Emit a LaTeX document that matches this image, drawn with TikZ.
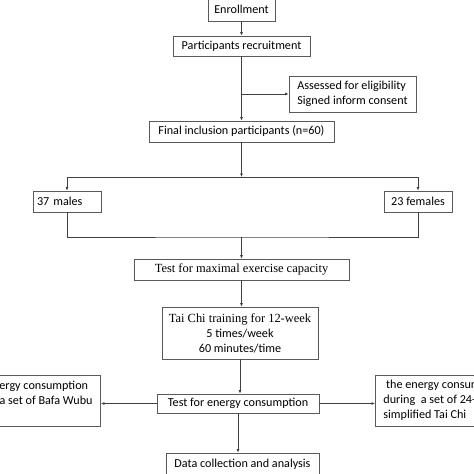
\documentclass[tikz,border=0pt]{standalone}
\usepackage{fontspec}
\setmainfont{Carlito}
\newfontfamily\timesfont{Liberation Serif}
\usetikzlibrary{arrows.meta}

\begin{document}
\begin{tikzpicture}[x=1bp, y=-1bp, >={Latex[length=3.5pt,width=3pt]},
    box/.style={draw=black!65, line width=0.8pt, inner sep=0pt,
        font=\fontsize{12.2}{15}\selectfont},
    serifbox/.style={box, font=\timesfont\fontsize{12.5}{15}\selectfont},
    sidebox/.style={box, align=left, inner xsep=8bp, minimum height=51bp},
    link/.style={draw=black!75, line width=0.7pt}]
    \clip (0,0) rectangle (474,474);

    \node[box, minimum width=67bp, minimum height=23bp] (enroll) at (241.5,9.5) {Enrollment};
    \node[box, minimum width=137bp, minimum height=20bp] (recruit) at (241.5,46) {Participants recruitment};
    \node[box, minimum width=127bp, minimum height=36bp, align=left] (assess) at (352.5,94)
        {Assessed for eligibility\\Signed inform consent};
    \node[box, minimum width=185bp, minimum height=21bp] (final) at (241.5,131.5) {Final inclusion participants (n=60)};
    \node[box, text width=60bp, inner xsep=4bp, minimum height=21bp, align=left] (males) at (67,201.5) {37 males};
    \node[box, minimum width=68bp, minimum height=21bp] (females) at (418,201.5) {23 females};
    \node[serifbox, minimum width=215bp, minimum height=21bp] (testmax) at (241.5,269.5) {Test for maximal exercise capacity};
    \node[box, minimum width=156bp, minimum height=52bp, align=center] (taichi) at (240,333)
        {{\timesfont\fontsize{12.5}{15}\selectfont Tai Chi training for 12-week}\\5 times/week\\60 minutes/time};
    \node[box, minimum width=162bp, minimum height=19bp] (energy) at (238,403.5) {Test for energy consumption};
    \node[sidebox, anchor=east] (bafa) at (101,400.5)
        {\ the energy consumption\\during a set of Bafa Wubu\\Tai Chi};
    \node[sidebox, anchor=west] (simple) at (375,400.5)
        {\ the energy consumption\\during\ \ a set of 24-form\\simplified Tai Chi};
    \node[box, minimum width=153bp, minimum height=22bp] (data) at (242.5,464) {Data collection and analysis};

    % junctions
    \coordinate (branch) at (241.5,94);
    \coordinate (split) at (241.5,177);
    \coordinate (merge) at (241.5,237);

    \draw[link,->] (enroll.south) -- (recruit.north);
    \draw[link,->] (recruit.south) -- (final.north);
    \draw[link,->] (branch) -- (assess.west);
    \draw[link,->] (final.south) -- (split);
    \draw[link,->] (split) -| (males.north);
    \draw[link,->] (split) -| (females.north);
    \draw[link] (males.south) |- (merge) -| (females.south);
    \draw[link,->] (merge) -- (testmax.north);
    \draw[link,->] (testmax.south) -- (testmax.south |- taichi.north);
    \draw[link,->] (taichi.south) -- (taichi.south |- energy.north);
    \draw[link,->] (energy.west) -- (energy.west -| bafa.east);
    \draw[link,->] (energy.east) -- (energy.east -| simple.west);
    \draw[link,->] (energy.south) -- (energy.south |- data.north);
\end{tikzpicture}
\end{document}
